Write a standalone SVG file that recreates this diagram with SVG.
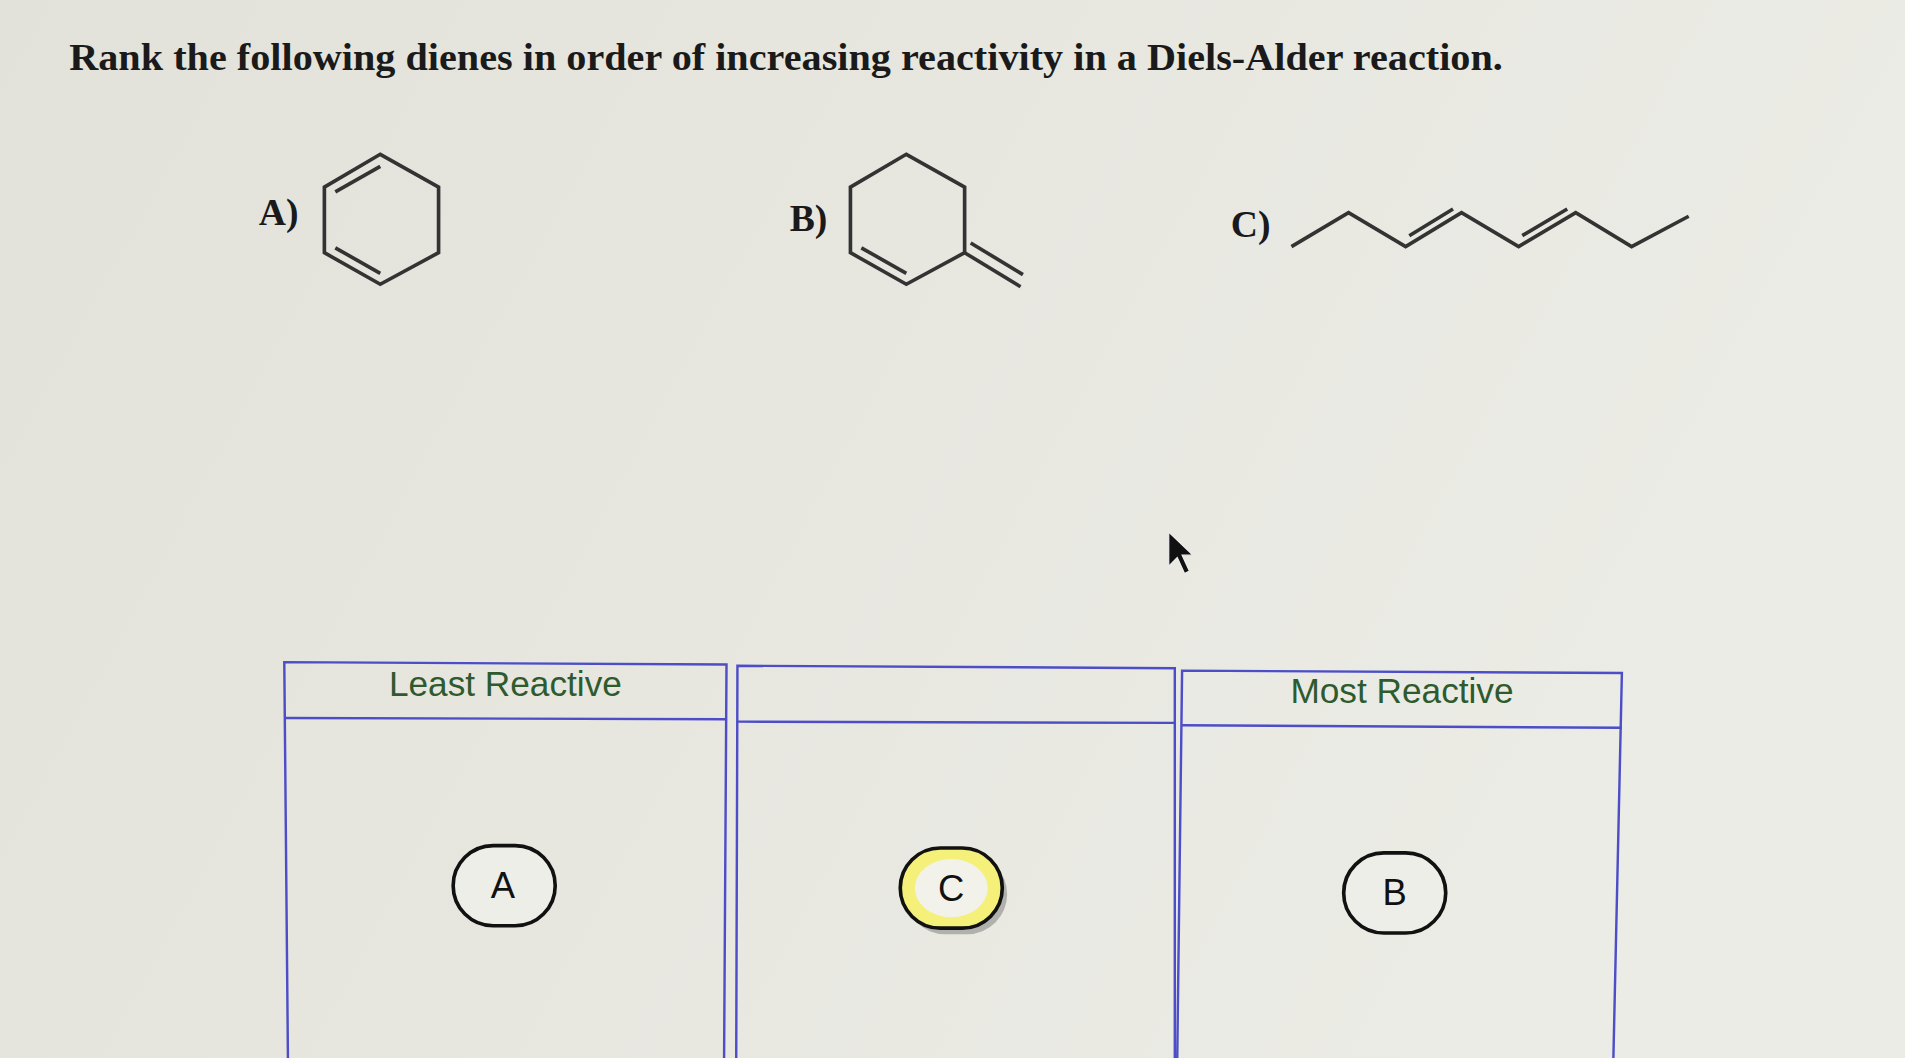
<svg xmlns="http://www.w3.org/2000/svg" width="1905" height="1058" viewBox="0 0 1905 1058">
<defs>
<linearGradient id="bg" x1="0" y1="0" x2="1" y2="0.3"><stop offset="0" stop-color="#e2e2da"/><stop offset="1" stop-color="#ecece6"/></linearGradient>
<style>
.b{fill:none;stroke:#333;stroke-width:3;stroke-linejoin:miter}
.t{font-family:"Liberation Serif",serif;font-weight:bold;fill:#1a1a1a}
.h{font-family:"Liberation Sans",sans-serif;font-size:29px;fill:#2e5a2e;text-anchor:middle}
.box{fill:none;stroke:#4d4dc8;stroke-width:2}
.pill{fill:#eeeee9;stroke:#111;stroke-width:3}
.pl{font-family:"Liberation Sans",sans-serif;font-size:30px;fill:#111;text-anchor:middle}
</style>
</defs>
<rect width="1905" height="1058" fill="url(#bg)"/>
<g transform="scale(1.2149)">
<text class="t" x="57" y="58" font-size="32" textLength="1180" lengthAdjust="spacingAndGlyphs">Rank the following dienes in order of increasing reactivity in a Diels-Alder reaction.</text>
<g id="molA">
<text class="t" x="213" y="185" font-size="31">A)</text>
<polygon class="b" points="313,127 361,154 361,208 313,234 267,208 267,154"/>
<line class="b" x1="276" y1="158" x2="313" y2="137"/>
<line class="b" x1="276" y1="204" x2="313" y2="225"/>
</g>
<g id="molB">
<text class="t" x="650" y="190" font-size="31">B)</text>
<polygon class="b" points="746,127 794,154 794,208 746,234 700,208 700,154"/>
<line class="b" x1="709" y1="204" x2="746" y2="225"/>
<line class="b" x1="794" y1="208" x2="840" y2="236"/>
<line class="b" x1="799" y1="200" x2="842" y2="226"/>
</g>
<g id="molC">
<text class="t" x="1013" y="195" font-size="31">C)</text>
<polyline class="b" points="1063,203 1110,175 1157,203 1203,175 1250,203 1297,175 1343,203 1390,178"/>
<line class="b" x1="1160" y1="194" x2="1196" y2="172"/>
<line class="b" x1="1253" y1="194" x2="1290" y2="172"/>
</g>
<polygon points="962,438 962,466 969,459 975,472 979,470 973,457 982,457" fill="#111" stroke="#eee" stroke-width="1"/>
<g id="col1">
<polyline class="box" points="237,871 234,545 598,547 596,871"/>
<line class="box" x1="234" y1="591" x2="598" y2="592"/>
<text class="h" x="416" y="573">Least Reactive</text>
</g>
<g id="col2">
<polyline class="box" points="606,871 607,548 967,550 967,871"/>
<line class="box" x1="607" y1="594" x2="967" y2="595"/>
</g>
<g id="col3">
<polyline class="box" points="969,871 973,552 1335,554 1328,871"/>
<line class="box" x1="973" y1="597" x2="1335" y2="599"/>
<text class="h" x="1154" y="579">Most Reactive</text>
</g>
<g id="pillA"><rect class="pill" x="373" y="696" width="84" height="66" rx="33"/><text class="pl" x="414" y="739">A</text></g>
<g id="pillC"><rect x="745" y="703" width="84" height="66" rx="33" fill="#777" opacity="0.5"/><rect x="741" y="698" width="84" height="66" rx="33" fill="#f4f07a" stroke="#111" stroke-width="3"/><ellipse cx="783" cy="731" rx="30" ry="24" fill="#f2f2ea"/><text class="pl" x="783" y="742">C</text></g>
<g id="pillB"><rect class="pill" x="1106" y="702" width="84" height="66" rx="33"/><text class="pl" x="1148" y="745">B</text></g>
</g>
</svg>
